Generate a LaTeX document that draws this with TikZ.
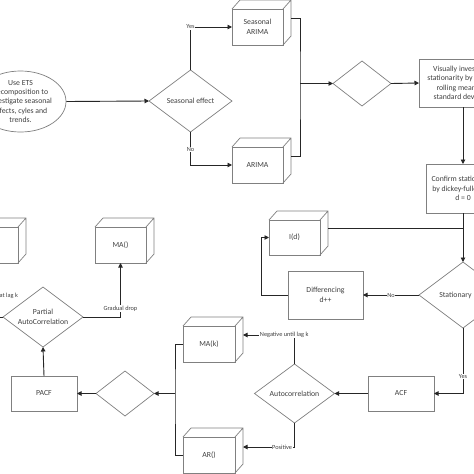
\documentclass[tikz,border=0pt]{standalone}
\usepackage{fontspec}
\setmainfont{Carlito}
\usetikzlibrary{arrows.meta,shapes.geometric,calc}
\definecolor{txt}{HTML}{404040}
\definecolor{shp}{HTML}{808080}
\definecolor{con}{HTML}{262626}
\newcommand\cubeedge[1]{\draw[shapeline] (#1.north west) -- ++(8,-9) -- ($(#1.north east)+(8,-9)$) -- ($(#1.south east)+(8,-9)$) -- (#1.south east) (#1.north east) -- ++(8,-9);}
\begin{document}
\begin{tikzpicture}[x=1pt,y=-1pt,
  shapeline/.style={draw=shp, line width=0.7pt, line join=miter},
  box/.style={shapeline, fill=white, rectangle, inner sep=1pt, outer sep=0pt, align=center, text=txt, font=\fontsize{7.75}{9.4}\selectfont},
  dia/.style={shapeline, fill=white, diamond, inner sep=0pt, outer sep=0pt},
  dtxt/.style={text=txt, font=\fontsize{7.75}{9.4}\selectfont, align=center, inner sep=0pt},
  conn/.style={draw=con, line width=0.9pt},
  arr/.style={conn, -{Triangle[length=4.5pt,width=4.5pt]}},
  lbl/.style={fill=white, inner sep=0.6pt, text=txt, font=\fontsize{6.3}{7}\selectfont}
]
\useasboundingbox (0,0) rectangle (474,474);
\fill[white] (0,0) rectangle (474,474);

% start ellipse
\node[shapeline, ellipse, inner sep=0pt, minimum width=91pt, minimum height=61pt,
  label={[dtxt]center:Use ETS\\decomposition to\\investigate seasonal\\effects, cyles and\\trends.}] (ell) at (20.5,101.5) {};

% diamonds
\node[dia, minimum width=83pt, minimum height=62pt, label={[dtxt]center:Seasonal effect}] (SE) at (190.5,101) {};
\node[dia, minimum width=58pt, minimum height=45pt] (D1) at (362,83.5) {};
\node[dia, minimum width=88pt, minimum height=66pt] (ST) at (463,295) {};
\node[dtxt] (STt) at (455.5,295) {Stationary};
\node[dia, minimum width=80pt, minimum height=59pt, label={[dtxt]center:Autocorrelation}] (AC) at (294.5,393.5) {};
\node[dia, minimum width=58pt, minimum height=45pt] (D2) at (125,393.5) {};
\node[dia, minimum width=80pt, minimum height=60pt, label={[dtxt]center:Partial\\AutoCorrelation}] (PAC) at (43,317) {};

% plain boxes
\node[box, minimum width=88pt, minimum height=48pt] (Vis) at (463,83) {Visually investigate\\stationarity by plotting\\rolling mean and\\standard deviation};
\node[box, minimum width=74pt, minimum height=49pt] (Conf) at (463,188.5) {Confirm stationarity\\by dickey-fuller test\\d = 0};
\node[box, minimum width=75pt, minimum height=48pt] (Diff) at (325.5,295) {Differencing\\d++};
\node[box, minimum width=66pt, minimum height=35pt] (ACF) at (401,393.5) {ACF};
\node[box, minimum width=66pt, minimum height=35pt] (PACF) at (44,393.5) {PACF};

% 3D boxes
\node[box, minimum width=51pt, minimum height=36pt] (SA) at (257.5,27) {Seasonal\\ARIMA};
\cubeedge{SA}
\node[box, minimum width=51pt, minimum height=36pt] (AR1) at (257.5,165) {ARIMA};
\cubeedge{AR1}
\node[box, minimum width=51pt, minimum height=35pt] (Id) at (294.5,237.5) {I(d)};
\cubeedge{Id}
\node[box, minimum width=51pt, minimum height=36pt] (MA0) at (120.5,245) {MA()};
\cubeedge{MA0}
\node[box, minimum width=51pt, minimum height=36pt] (ARl) at (-7.5,245) {AR()};
\cubeedge{ARl}
\node[box, minimum width=52pt, minimum height=36pt] (MAk) at (209,344) {MA(k)};
\cubeedge{MAk}
\node[box, minimum width=52pt, minimum height=36pt] (ARb) at (209,455) {AR()};
\cubeedge{ARb}

% connectors
\draw[arr] (ell.east) -- (SE.west);
\draw[arr] (SE.north) |- node[lbl, pos=0.5] {Yes} (SA.west);
\draw[arr] (SE.south) |- node[lbl, pos=0.27] {No} (AR1.west);
\coordinate (j1) at ([xshift=17pt]SA.east |- D1.west);
\draw[conn] ($(SA.east)+(8,-9)$) -| (j1) |- ($(AR1.east)+(8,-9)$);
\draw[arr] (j1) -- (D1.west);
\draw[arr] (D1.east) -- (Vis.west);
\draw[arr] (Vis.south) -- (Conf.north);
\draw[arr] (Conf.south) -- (ST.north);
\coordinate (idr) at ($(Id.east)+(8,-9)$);
\draw[conn] (idr) -- (idr -| ST.north);
\draw[arr] (ST.west) -- node[lbl] {No} (Diff.east);
\draw[arr] (Diff.west) -- ++(-27,0) |- (Id.west);
\draw[arr] (ST.south) |- node[lbl, pos=0.37] {Yes} (ACF.east);
\draw[arr] (ACF.west) -- (AC.east);
\draw[arr] (AC.north) |- node[lbl, pos=0.6] {Negative until lag k} ($(MAk.east)+(8,-9)$);
\draw[arr] (AC.south) |- node[lbl, pos=0.62] {Positive} ($(ARb.east)+(8,-8)$);
\coordinate (j2) at ([xshift=-8pt]MAk.west |- D2.east);
\draw[conn] (MAk.west) -| (j2) |- (ARb.west);
\draw[arr] (j2) -- (D2.east);
\draw[arr] (D2.west) -- (PACF.east);
\draw[arr] (PACF.north) -- (PAC.south);
\draw[arr] (PAC.east) -| node[lbl, pos=0.58] {Gradual drop} (MA0.south);
\draw[arr] (PAC.west) -| node[lbl, pos=0.7, xshift=7pt] {Cut off at lag k} (ARl.south);
\end{tikzpicture}
\end{document}
